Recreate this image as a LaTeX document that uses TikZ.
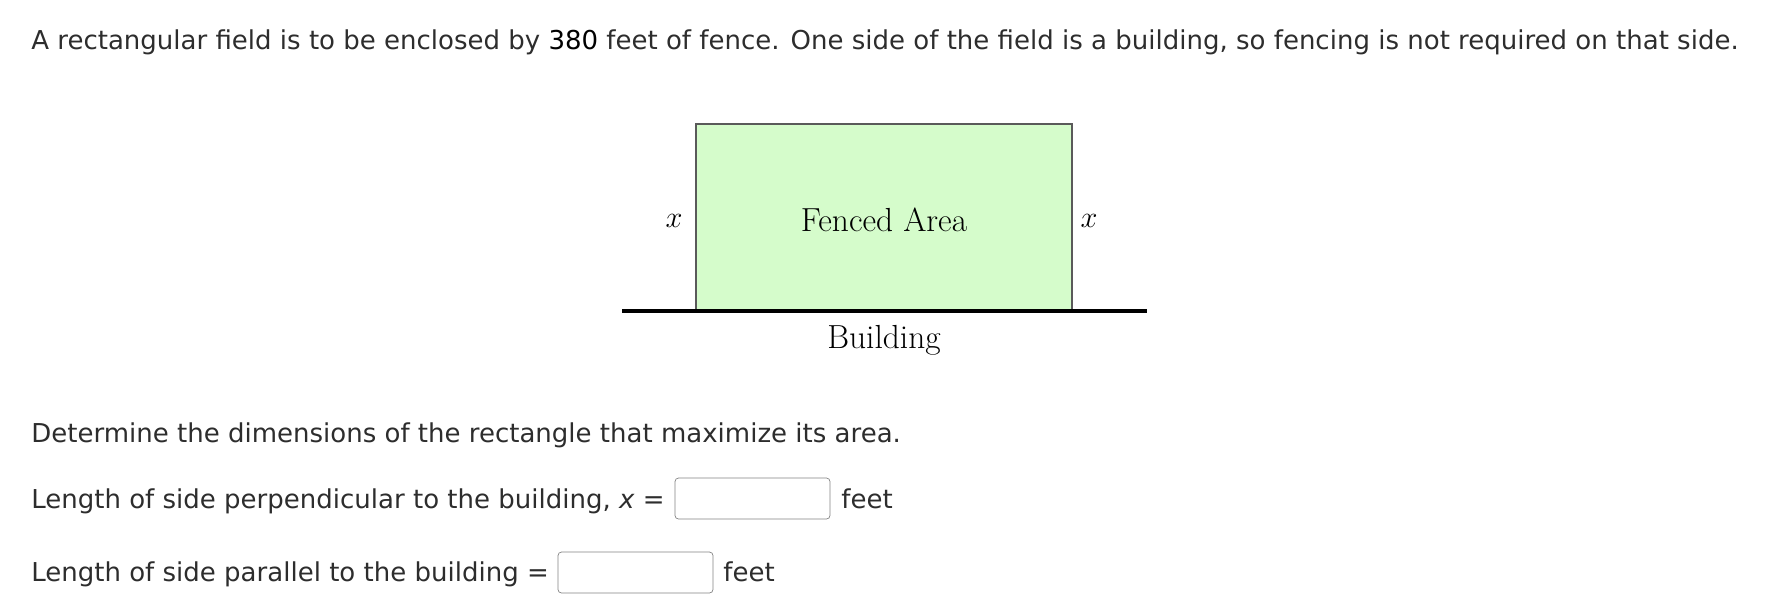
\documentclass[tikz,border=0pt]{standalone}
\usepackage{fontspec}
\usetikzlibrary{positioning}
\newfontfamily\webfont{DejaVu Sans}
\definecolor{textgray}{RGB}{45,45,45}
\definecolor{fieldgreen}{RGB}{213,252,203}
\definecolor{edgegray}{RGB}{90,90,90}
\definecolor{boxgray}{RGB}{130,130,130}
\begin{document}
\begin{tikzpicture}[x=0.2mm, y=-0.2mm,
        prose/.style={anchor=base west, inner sep=0pt, text=textgray, font=\webfont\fontsize{14.8}{18}\selectfont},
        field/.style={rectangle, draw=edgegray, line width=0.8pt, fill=fieldgreen, minimum width=75.2mm, minimum height=37.4mm, font=\fontsize{19}{23}\selectfont},
        tag/.style={inner sep=0pt, font=\fontsize{19}{23}\selectfont},
        answer/.style={rectangle, draw=boxgray, rounded corners=2pt, minimum width=31mm, minimum height=8.2mm, inner sep=0pt}
    ]
        \useasboundingbox (0,0) rectangle (1786,612);

        % Question
        \node[prose] (intro) at (31,49) {A rectangular field is to be enclosed by \textcolor{black}{380} feet of fence. One side of the field is a building, so fencing is not required on that side.};

        % Field
        \node[field] (field) at (884,217.5) {};
        \node[tag] (area) at (884,220) {Fenced Area};
        \node[tag] (xleft) at (674,221) {$x$};
        \node[tag] (xright) at (1089,221) {$x$};

        % Building
        \coordinate (wallw) at (622,311);
        \coordinate (walle) at (1147,311);
        \draw[line width=2.2pt] (wallw) -- (walle);
        \node[tag] (building) at (884,340) {Building};

        % Answers
        \node[prose] (task) at (31,442) {Determine the dimensions of the rectangle that maximize its area.};
        \node[prose] (perp) at (31,508) {Length of side perpendicular to the building, \textit{x} =};
        \node[answer] (perpbox) at (752.5,498.5) {};
        \node[prose] (perpunit) at (841,508) {feet};
        \node[prose] (para) at (31,581) {Length of side parallel to the building =};
        \node[answer] (parabox) at (635.5,572.5) {};
        \node[prose] (paraunit) at (723,581) {feet};
    \end{tikzpicture}
\end{document}
